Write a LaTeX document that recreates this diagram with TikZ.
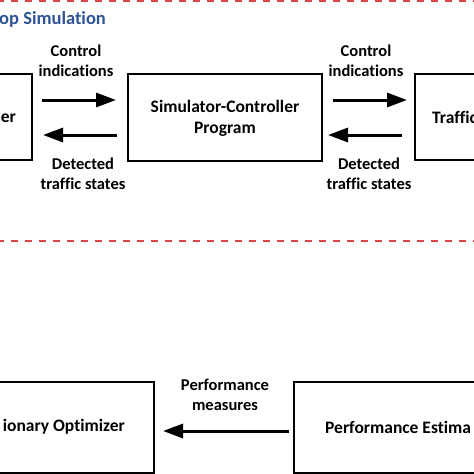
\documentclass[tikz,border=0pt]{standalone}
\usepackage{fontspec}
\setmainfont{Carlito}[Ligatures=NoCommon]
\usetikzlibrary{arrows.meta}
\definecolor{titleblue}{RGB}{46,84,150}
\definecolor{dashred}{RGB}{220,70,70}
\tikzset{
  box/.style={draw=black, line width=1.4pt, fill=none},
  lbl/.style={font=\bfseries\fontsize{16.5}{19.5}\selectfont, align=center, inner sep=0pt},
  boxtxt/.style={font=\bfseries\fontsize{17.5}{21}\selectfont, align=center, inner sep=0pt},
  flow/.style={line width=3pt, -{Triangle[length=20pt,width=14pt]}},
  sep/.style={draw=dashred, line width=1.3pt, dash pattern=on 7pt off 7pt}
}
\begin{document}
\begin{tikzpicture}[x=1pt,y=-1pt]
\useasboundingbox (0,0) rectangle (474,474);
% separators
\coordinate (t1) at (-3,1); \coordinate (t2) at (480,1);
\draw[sep] (t1) -- (t2);
\coordinate (s1) at (-3,241); \coordinate (s2) at (480,241);
\draw[sep] (s1) -- (s2);
% title
\node[anchor=base west, inner sep=0pt, text=titleblue, font=\bfseries\fontsize{18.5}{22}\selectfont] (title) at (-1,24) {op Simulation};
% top boxes
\draw[box] (-10,74) rectangle (32,160);
\node[boxtxt, anchor=east] (lbox) at (16,118) {er};
\node[box, minimum width=194pt, minimum height=87pt, inner sep=0pt] (sim) at (225,117.5) {};
\node[boxtxt] (simtxt) at (225,118) {Simulator-Controller\\Program};
\draw[box] (485,74) -- (415,74) -- (415,160) -- (485,160);
\node[boxtxt, anchor=west] (traf) at (432,117) {Traffic};
% top arrow coordinates
\coordinate (a1s) at (42,100); \coordinate (a1e) at (116,100);
\coordinate (a2s) at (117,135); \coordinate (a2e) at (43,135);
\coordinate (b1s) at (333,100); \coordinate (b1e) at (407,100);
\coordinate (b2s) at (402,135); \coordinate (b2e) at (328,135);
\draw[flow] (a1s) -- (a1e);
\draw[flow] (a2s) -- (a2e);
\draw[flow] (b1s) -- (b1e);
\draw[flow] (b2s) -- (b2e);
\node[lbl] (c1) at (76,61) {Control\\indications};
\node[lbl] (d1) at (83,174) {Detected\\traffic states};
\node[lbl] (c2) at (366,61) {Control\\indications};
\node[lbl] (d2) at (369,174) {Detected\\traffic states};
% bottom boxes
\draw[box] (-10,382) -- (154,382) -- (154,473) -- (-10,473);
\node[boxtxt, anchor=east] (opt) at (125,427) {ionary Optimizer};
\draw[box] (485,382) -- (294,382) -- (294,473) -- (485,473);
\node[boxtxt, anchor=west] (perf) at (325,427) {Performance Estima};
\coordinate (p1) at (289,431); \coordinate (p2) at (163,431);
\draw[flow] (p1) -- (p2);
\node[lbl] (pm) at (225,395) {Performance\\measures};
\end{tikzpicture}
\end{document}
